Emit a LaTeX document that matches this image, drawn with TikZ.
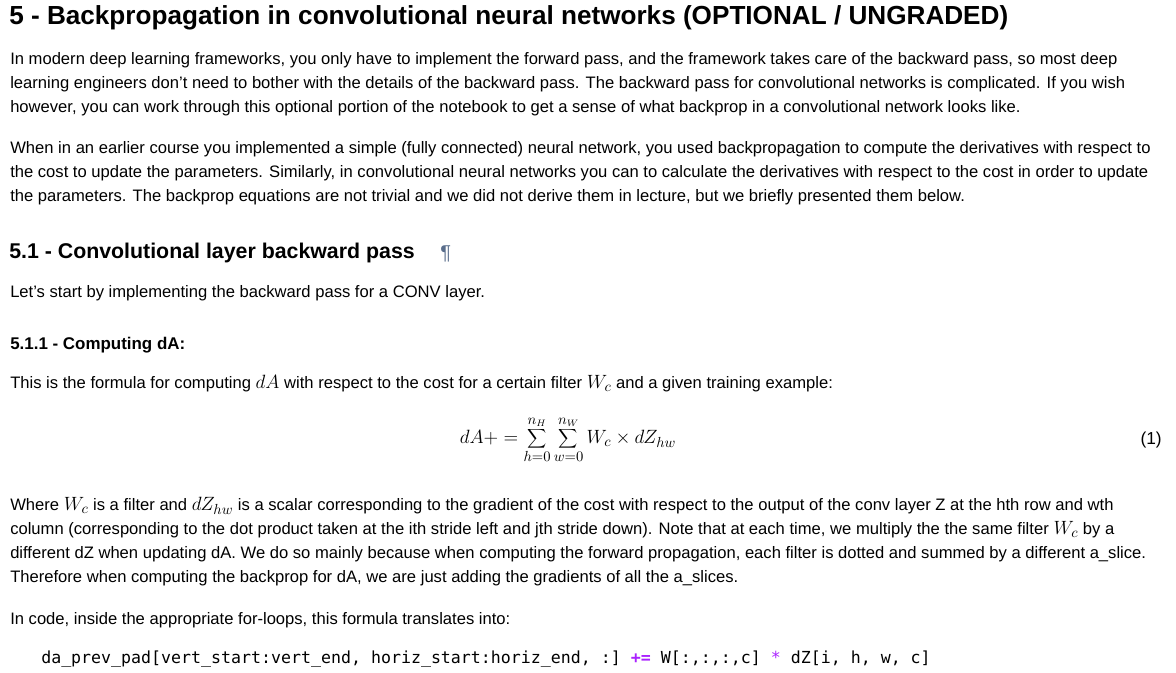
\documentclass[tikz,border=0pt]{standalone}
\usepackage{fontspec}
\setmainfont{Liberation Sans}
\setmonofont{DejaVu Sans Mono}
\definecolor{kw}{HTML}{AA22FF}
\definecolor{pil}{HTML}{5A6E8C}
\newcommand{\mth}[1]{{\fontsize{15}{16}\selectfont$#1$}}
\begin{document}
\begin{tikzpicture}[x=0.75pt,y=-0.75pt,
  txt/.style={anchor=west,inner sep=0pt,font=\fontsize{12.45}{14}\selectfont},
  h1/.style={anchor=west,inner sep=0pt,font=\fontsize{19.6}{22}\bfseries\selectfont},
  h2/.style={anchor=west,inner sep=0pt,font=\fontsize{16}{18}\bfseries\selectfont},
  h3/.style={anchor=west,inner sep=0pt,font=\fontsize{12.7}{14}\bfseries\selectfont},
  code/.style={anchor=west,inner sep=0pt,font=\fontsize{12.45}{14}\ttfamily\selectfont}]
\useasboundingbox (0,0) rectangle (1176,673);
\node[h1] (title) at (9,18) {5 - Backpropagation in convolutional neural networks (OPTIONAL / UNGRADED)};
\node[txt] (p1) at (10,60) {In modern deep learning frameworks, you only have to implement the forward pass, and the framework takes care of the backward pass, so most deep};
\node[txt] (p2) at (10,84) {learning engineers don't need to bother with the details of the backward pass. The backward pass for convolutional networks is complicated. If you wish};
\node[txt] (p3) at (10,108) {however, you can work through this optional portion of the notebook to get a sense of what backprop in a convolutional network looks like.};
\node[txt] (q1) at (10,149) {When in an earlier course you implemented a simple (fully connected) neural network, you used backpropagation to compute the derivatives with respect to};
\node[txt] (q2) at (10,173) {the cost to update the parameters. Similarly, in convolutional neural networks you can to calculate the derivatives with respect to the cost in order to update};
\node[txt] (q3) at (10,197) {the parameters. The backprop equations are not trivial and we did not derive them in lecture, but we briefly presented them below.};
\node[h2] (s51) at (9,253) {5.1 - Convolutional layer backward pass};
\node[anchor=west,inner sep=0pt,font=\fontsize{15}{18}\selectfont,text=pil] (pilc) at (440,254) {¶};
\node[txt] (r1) at (10,293) {Let's start by implementing the backward pass for a CONV layer.};
\node[h3] (s511) at (10,345) {5.1.1 - Computing dA:};
\node[txt] (f1) at (10,384) {This is the formula for computing \mth{dA} with respect to the cost for a certain filter \mth{W_c} and a given training example:};
\node[inner sep=0pt,font=\fontsize{15}{16}\selectfont] (eq) at (568,440) {$\displaystyle dA + = \sum_{h=0}^{n_H} \sum_{w=0}^{n_W} W_c \times dZ_{hw}$};
\node[anchor=east,inner sep=0pt,font=\fontsize{13}{14}\selectfont] (eqn) at (1162,440) {(1)};
\node[txt] (w1) at (10,506) {Where \mth{W_c} is a filter and \mth{dZ_{hw}} is a scalar corresponding to the gradient of the cost with respect to the output of the conv layer Z at the hth row and wth};
\node[txt] (w2) at (10,530) {column (corresponding to the dot product taken at the ith stride left and jth stride down). Note that at each time, we multiply the the same filter \mth{W_c} by a};
\node[txt] (w3) at (10,554) {different dZ when updating dA. We do so mainly because when computing the forward propagation, each filter is dotted and summed by a different a\_slice.};
\node[txt] (w4) at (10,578) {Therefore when computing the backprop for dA, we are just adding the gradients of all the a\_slices.};
\node[txt] (c1) at (10,620) {In code, inside the appropriate for-loops, this formula translates into:};
\node[code] (cd) at (41,659) {da\_prev\_pad[vert\_start:vert\_end, horiz\_start:horiz\_end, :] \textcolor{kw}{\bfseries +=} W[:,:,:,c] \textcolor{kw}{*} dZ[i, h, w, c]};
\end{tikzpicture}
\end{document}
